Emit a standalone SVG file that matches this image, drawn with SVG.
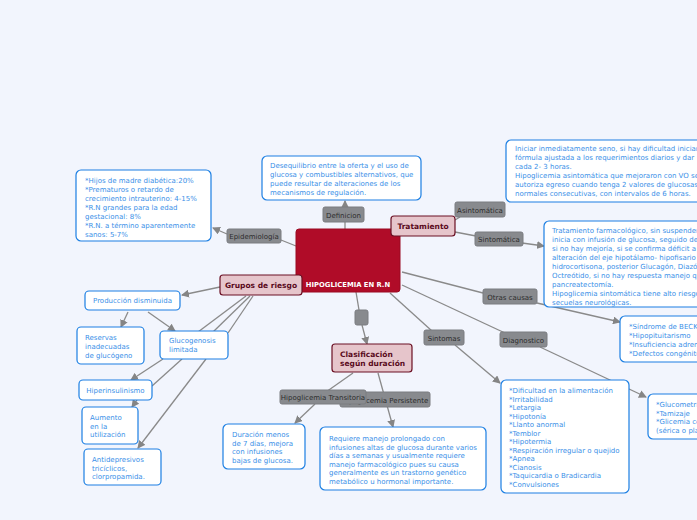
<svg xmlns="http://www.w3.org/2000/svg" width="697" height="520" viewBox="0 0 697 520">
<defs>
<marker id="a" markerWidth="8" markerHeight="8" refX="7" refY="4" orient="auto" markerUnits="userSpaceOnUse"><path d="M0,0 L8,4 L0,8 Z" fill="#858585"/></marker>
<style>
.ln{stroke:#8a8a8a;stroke-width:1.3;fill:none}
.ar{marker-end:url(#a)}
.lb rect{fill:#888a8e;stroke:#7a7c80}
.lb text{fill:#2d2d2d;font-family:"DejaVu Sans",sans-serif;font-size:7px;text-anchor:middle}
.bx rect{fill:#fff;stroke:#1c7fe3;stroke-width:1.2}
.bx text{fill:#3a8fe8;font-family:"DejaVu Sans",sans-serif;font-size:7px}
.pk rect{fill:#e6c5cb;stroke:#6b1024;stroke-width:1.2}
.pk text{fill:#5a0a1c;font-family:"DejaVu Sans",sans-serif;font-size:7.5px;font-weight:bold}
</style>
</defs>
<rect width="697" height="520" fill="#f2f5fd"/>
<g id="connectors">
<line class="ln" x1="345" y1="229" x2="345" y2="222"/>
<line class="ln ar" x1="345" y1="207" x2="345" y2="201"/>
<line class="ln" x1="296" y1="246" x2="281" y2="240"/>
<line class="ln ar" x1="227" y1="234" x2="213" y2="228"/>
<line class="ln" x1="455" y1="220" x2="460" y2="217"/>
<line class="ln" x1="455" y1="232" x2="476" y2="236"/>
<line class="ln ar" x1="522" y1="243" x2="544" y2="246"/>
<line class="ln" x1="402" y1="272" x2="483" y2="293"/>
<line class="ln ar" x1="537" y1="303" x2="620" y2="322"/>
<line class="ln" x1="402" y1="285" x2="505" y2="333"/>
<line class="ln ar" x1="540" y1="347" x2="646" y2="397"/>
<line class="ln" x1="390" y1="293" x2="432" y2="331"/>
<line class="ln ar" x1="455" y1="345" x2="500" y2="383"/>
<line class="ln" x1="356" y1="292" x2="359" y2="310"/>
<line class="ln ar" x1="362" y1="325" x2="367" y2="344"/>
<line class="ln ar" x1="220" y1="287" x2="182" y2="295"/>
<line class="ln ar" x1="128" y1="312" x2="121" y2="327"/>
<line class="ln ar" x1="148" y1="312" x2="175" y2="331"/>
<line class="ln" x1="246" y1="296" x2="198" y2="332"/>
<line class="ln" x1="250" y1="296" x2="213" y2="332"/>
<line class="ln" x1="253" y1="296" x2="228" y2="333"/>
<line class="ln ar" x1="163" y1="359" x2="131" y2="380"/>
<line class="ln" x1="182" y1="359" x2="152" y2="386"/>
<line class="ln ar" x1="137" y1="400" x2="132" y2="407"/>
<line class="ln ar" x1="206" y1="359" x2="138" y2="448"/>
<line class="ln" x1="353" y1="373" x2="326" y2="392"/>
<line class="ln ar" x1="315" y1="404" x2="295" y2="423"/>
<line class="ln ar" x1="378" y1="373" x2="393" y2="427"/>
</g>
<g id="central"><rect x="296" y="229" width="104" height="63" rx="3" fill="#b00c28" stroke="#9a0a22"/><text x="348" y="287" fill="#fff" font-family="DejaVu Sans,sans-serif" font-size="6.8" font-weight="bold" text-anchor="middle">HIPOGLICEMIA EN R.N</text></g>
<g id="lbl-def" class="lb"><rect x="323" y="207" width="41" height="15" rx="2"/><text x="343.5" y="217.5">Definicion</text></g>
<g id="def" class="bx"><rect x="262" y="156" width="159" height="44" rx="5"/><text x="270" y="168">Desequilibrio entre la oferta y el uso de</text><text x="270" y="177">glucosa y combustibles alternativos, que</text><text x="270" y="186">puede resultar de alteraciones de los</text><text x="270" y="195">mecanismos de regulación.</text></g>
<g id="trat" class="pk"><rect x="391" y="216" width="64" height="20" rx="3"/><text x="423" y="229" text-anchor="middle">Tratamiento</text></g>
<g id="lbl-asin" class="lb"><rect x="455" y="202" width="50" height="15" rx="2"/><text x="480" y="212.5">Asintomática</text></g>
<g id="asin" class="bx"><rect x="506" y="140" width="200" height="62" rx="5"/><text x="515" y="151">Iniciar inmediatamente seno, si hay dificultad iniciar</text><text x="515" y="160">fórmula ajustada a los requerimientos diarios y dar</text><text x="515" y="169">cada 2- 3 horas.</text><text x="515" y="178">Hipoglicemia asintomática que mejoraron con VO se</text><text x="515" y="187">autoriza egreso cuando tenga 2 valores de glucosas</text><text x="515" y="196">normales consecutivas, con intervalos de 6 horas.</text></g>
<g id="lbl-sint" class="lb"><rect x="475" y="232" width="48" height="14" rx="2"/><text x="499" y="242">Sintomática</text></g>
<g id="sint" class="bx"><rect x="544" y="221" width="160" height="86" rx="5"/><text x="552" y="233">Tratamiento farmacológico, sin suspender</text><text x="552" y="242">inicia con infusión de glucosa, seguido de</text><text x="552" y="251">si no hay mejoría, si se confirma déficit a</text><text x="552" y="260">alteración del eje hipotálamo- hipofisario</text><text x="552" y="269">hidrocortisona, posterior Glucagón, Diazó</text><text x="552" y="278">Octreótido, si no hay respuesta manejo q</text><text x="552" y="287">pancreatectomía.</text><text x="552" y="296">Hipoglicemia sintomática tiene alto riesgo</text><text x="552" y="305">secuelas neurológicas.</text></g>
<g id="lbl-epi" class="lb"><rect x="227" y="229" width="54" height="14" rx="2"/><text x="254" y="239">Epidemiología</text></g>
<g id="epi" class="bx"><rect x="76" y="170" width="135" height="71" rx="5"/><text x="85" y="183">*Hijos de madre diabética:20%</text><text x="85" y="192">*Prematuros o retardo de</text><text x="85" y="201">crecimiento intrauterino: 4-15%</text><text x="85" y="210">*R.N grandes para la edad</text><text x="85" y="219">gestacional: 8%</text><text x="85" y="228">*R.N. a término aparentemente</text><text x="85" y="237">sanos: 5-7%</text></g>
<g id="grupos" class="pk"><rect x="220" y="275" width="82" height="20" rx="3"/><text x="261" y="288" text-anchor="middle">Grupos de riesgo</text></g>
<g id="prod" class="bx"><rect x="85" y="291" width="95" height="19" rx="4"/><text x="132.5" y="303" text-anchor="middle">Producción disminuida</text></g>
<g id="reservas" class="bx"><rect x="77" y="327" width="67" height="37" rx="4"/><text x="85" y="340">Reservas</text><text x="85" y="349">inadecuadas</text><text x="85" y="358">de glucógeno</text></g>
<g id="gluco" class="bx"><rect x="160" y="331" width="68" height="28" rx="4"/><text x="169" y="343">Glucogenosis</text><text x="169" y="352">limitada</text></g>
<g id="hiper" class="bx"><rect x="79" y="380" width="73" height="20" rx="4"/><text x="115.5" y="393" text-anchor="middle">Hiperinsulinismo</text></g>
<g id="aumento" class="bx"><rect x="82" y="407" width="56" height="37" rx="4"/><text x="90" y="420">Aumento</text><text x="90" y="429">en la</text><text x="90" y="437">utilización</text></g>
<g id="antidep" class="bx"><rect x="84" y="449" width="77" height="36" rx="4"/><text x="92" y="462">Antidepresivos</text><text x="92" y="471">tricíclicos,</text><text x="92" y="479">clorpropamida.</text></g>
<g id="lbl-cls" class="lb"><rect x="355" y="310" width="13" height="15" rx="2"/></g>
<g id="clasif" class="pk"><rect x="332" y="344" width="80" height="28" rx="3"/><text x="340" y="357">Clasificación</text><text x="340" y="366">según duración</text></g>
<g id="lbl-pers" class="lb"><rect x="340" y="392" width="90" height="15" rx="2"/><text x="385" y="402.5">Hipoglicemia Persistente</text></g>
<g id="lbl-trans" class="lb"><rect x="280" y="390" width="86" height="14" rx="2"/><text x="323" y="400">Hipoglicemia Transitoria</text></g>
<g id="trans" class="bx"><rect x="223" y="424" width="82" height="45" rx="5"/><text x="232" y="437">Duración menos</text><text x="232" y="446">de 7 días, mejora</text><text x="232" y="454">con infusiones</text><text x="232" y="463">bajas de glucosa.</text></g>
<g id="pers" class="bx"><rect x="320" y="427" width="166" height="63" rx="5"/><text x="329" y="441">Requiere manejo prolongado con</text><text x="329" y="450">infusiones altas de glucosa durante varios</text><text x="329" y="458">días a semanas y usualmente requiere</text><text x="329" y="467">manejo farmacológico pues su causa</text><text x="329" y="475">generalmente es un trastorno genético</text><text x="329" y="484">metabólico u hormonal importante.</text></g>
<g id="lbl-sintomas" class="lb"><rect x="424" y="330" width="40" height="15" rx="2"/><text x="444" y="340.5">Sintomas</text></g>
<g id="sintomas" class="bx"><rect x="501" y="380" width="128" height="113" rx="5"/><text x="509" y="393">*Dificultad en la alimentación</text><text x="509" y="402">*Irritabilidad</text><text x="509" y="410">*Letargia</text><text x="509" y="419">*Hipotonía</text><text x="509" y="427">*Llanto anormal</text><text x="509" y="436">*Temblor</text><text x="509" y="444">*Hipotermia</text><text x="509" y="453">*Respiración irregular o quejido</text><text x="509" y="461">*Apnea</text><text x="509" y="470">*Cianosis</text><text x="509" y="478">*Taquicardia o Bradicardia</text><text x="509" y="487">*Convulsiones</text></g>
<g id="lbl-otras" class="lb"><rect x="483" y="289" width="54" height="15" rx="2"/><text x="510" y="299.5">Otras causas</text></g>
<g id="otras" class="bx"><rect x="620" y="316" width="90" height="46" rx="5"/><text x="629" y="329">*Síndrome de BECKWITH</text><text x="629" y="338">*Hipopituitarismo</text><text x="629" y="347">*Insuficiencia adrenal</text><text x="629" y="356">*Defectos congénitos</text></g>
<g id="lbl-diag" class="lb"><rect x="500" y="332" width="47" height="15" rx="2"/><text x="523.5" y="342.5">Diagnostico</text></g>
<g id="diag" class="bx"><rect x="648" y="394" width="60" height="45" rx="5"/><text x="656" y="407">*Glucometría</text><text x="656" y="416">*Tamizaje</text><text x="656" y="424">*Glicemia central</text><text x="656" y="433">(sérica o plasma)</text></g>
</svg>
